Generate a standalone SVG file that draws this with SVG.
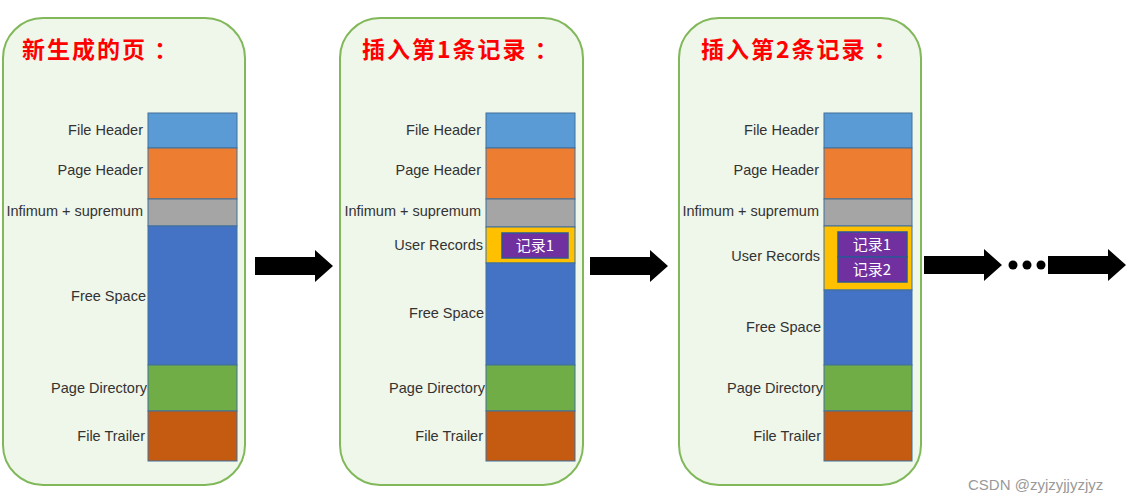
<svg xmlns="http://www.w3.org/2000/svg" width="1129" height="504" viewBox="0 0 1129 504">
<style>
.panel{fill:#eff6ea;stroke:#80b85a;stroke-width:2}
.t{font-family:"Noto Sans CJK SC","Liberation Sans",sans-serif;font-size:23px;font-weight:bold;fill:#ff0000;letter-spacing:2px}
.l{font-family:"Liberation Sans","Noto Sans CJK SC",sans-serif;font-size:14.5px;fill:#333;text-anchor:end}
.b{stroke:#41719c;stroke-width:1}
.fh{fill:#5b9bd5}.ph{fill:#ed7d31}.gr{fill:#a5a5a5}.fs{fill:#4472c4}.pd{fill:#70ad47}.ft{fill:#c55a11}.ur{fill:#ffc000}
.rec{fill:#7030a0;stroke:#2f5597;stroke-width:1.5}
.rt{font-family:"Noto Sans CJK SC",sans-serif;font-size:15px;fill:#fff;text-anchor:middle}
.wm{font-family:"Liberation Sans","Noto Sans CJK SC",sans-serif;font-size:15px;fill:#999}
</style>
<defs>
<path id="arr" d="M0,-9 H60 V-16 L78,0 L60,16 V9 H0 Z" fill="#000"/>
</defs>
<g id="page1">
<rect class="panel" x="3" y="18" width="242" height="467" rx="40"/>
<text class="t" x="22" y="58">新生成的页 ：</text>
<rect class="b fh" x="148" y="113" width="89" height="35"/>
<rect class="b ph" x="148" y="148" width="89" height="51"/>
<rect class="b gr" x="148" y="199" width="89" height="27"/>
<rect class="b fs" x="148" y="226" width="89" height="139"/>
<rect class="b pd" x="148" y="365" width="89" height="46"/>
<rect class="b ft" x="148" y="411" width="89" height="50"/>
<text class="l" x="143" y="135">File Header</text>
<text class="l" x="143" y="175">Page Header</text>
<text class="l" x="143" y="216">Infimum + supremum</text>
<text class="l" x="146" y="301">Free Space</text>
<text class="l" x="147" y="393">Page Directory</text>
<text class="l" x="145" y="441">File Trailer</text>
</g>
<g id="page2">
<rect class="panel" x="340" y="18" width="243" height="467" rx="40"/>
<text class="t" x="362" y="58">插入第1条记录 ：</text>
<rect class="b fh" x="486" y="113" width="89" height="35"/>
<rect class="b ph" x="486" y="148" width="89" height="51"/>
<rect class="b gr" x="486" y="199" width="89" height="28"/>
<rect class="b ur" x="486" y="227" width="89" height="36"/>
<rect class="rec" x="502" y="233" width="66" height="25"/>
<text class="rt" x="535" y="251">记录1</text>
<rect class="b fs" x="486" y="263" width="89" height="102"/>
<rect class="b pd" x="486" y="365" width="89" height="46"/>
<rect class="b ft" x="486" y="411" width="89" height="50"/>
<text class="l" x="481" y="135">File Header</text>
<text class="l" x="481" y="175">Page Header</text>
<text class="l" x="481" y="216">Infimum + supremum</text>
<text class="l" x="483" y="250">User Records</text>
<text class="l" x="484" y="318">Free Space</text>
<text class="l" x="485" y="393">Page Directory</text>
<text class="l" x="483" y="441">File Trailer</text>
</g>
<g id="page3">
<rect class="panel" x="679" y="18" width="242" height="467" rx="40"/>
<text class="t" x="701" y="58">插入第2条记录 ：</text>
<rect class="b fh" x="824" y="113" width="88" height="35"/>
<rect class="b ph" x="824" y="148" width="88" height="51"/>
<rect class="b gr" x="824" y="199" width="88" height="27"/>
<rect class="b ur" x="824" y="226" width="88" height="64"/>
<rect class="rec" x="838" y="232" width="69" height="25"/>
<rect class="rec" x="838" y="257" width="69" height="25"/>
<text class="rt" x="872" y="250">记录1</text>
<text class="rt" x="872" y="275">记录2</text>
<rect class="b fs" x="824" y="290" width="88" height="75"/>
<rect class="b pd" x="824" y="365" width="88" height="46"/>
<rect class="b ft" x="824" y="411" width="88" height="50"/>
<text class="l" x="819" y="135">File Header</text>
<text class="l" x="819" y="175">Page Header</text>
<text class="l" x="819" y="216">Infimum + supremum</text>
<text class="l" x="820" y="261">User Records</text>
<text class="l" x="821" y="332">Free Space</text>
<text class="l" x="823" y="393">Page Directory</text>
<text class="l" x="821" y="441">File Trailer</text>
</g>
<g id="connectors">
<use href="#arr" x="255" y="266"/>
<use href="#arr" x="590" y="266"/>
<use href="#arr" x="924" y="265"/>
<circle cx="1013" cy="265" r="4.5"/>
<circle cx="1027" cy="265" r="4.5"/>
<circle cx="1041" cy="265" r="4.5"/>
<use href="#arr" x="1048" y="265"/>
</g>
<text class="wm" x="968" y="490">CSDN @zyjzyjjyzjyz</text>
</svg>
